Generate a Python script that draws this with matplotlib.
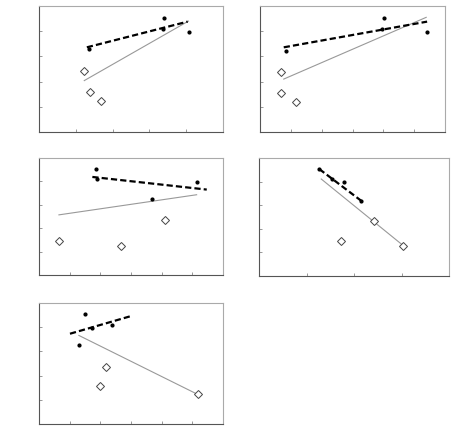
import numpy as np
import matplotlib.pyplot as plt

# five panels, same y values, x differs per panel
filled_x = [
    [1.37, 3.38, 3.40, 4.08],
    [0.85, 3.96, 4.02, 5.40],
    [1.85, 1.88, 3.67, 5.14],
    [1.27, 1.54, 1.78, 2.15],
    [1.50, 1.74, 2.38, 1.29],
]
filled_y = [
    [3.28, 4.08, 4.51, 3.96],
    [3.23, 4.08, 4.51, 3.96],
    [4.53, 4.10, 3.26, 3.98],
    [4.53, 4.10, 3.97, 3.19],
    [4.53, 3.98, 4.10, 3.28],
]
open_x = [
    [1.23, 1.39, 1.68],
    [0.69, 0.69, 1.18],
    [0.65, 2.66, 4.10],
    [1.73, 2.43, 3.03],
    [2.18, 2.00, 5.18],
]
open_y = [
    [2.42, 1.57, 1.23],
    [2.39, 1.54, 1.18],
    [1.47, 1.24, 2.35],
    [1.49, 2.34, 1.26],
    [2.35, 1.59, 1.22],
]
# fitted lines (end points)
dash_x = [[1.30, 4.04], [0.77, 5.42], [1.74, 5.47], [1.27, 2.15], [1.01, 3.00]]
dash_y = [[3.36, 4.38], [3.36, 4.38], [4.19, 3.65], [4.53, 3.19], [3.73, 4.46]]
solid_x = [[1.23, 4.06], [0.77, 5.39], [0.65, 5.14], [1.31, 3.03], [1.30, 5.18]]
solid_y = [[2.04, 4.40], [2.10, 4.55], [2.57, 3.43], [4.11, 1.30], [3.66, 1.22]]
xmax = [5, 6, 6, 4, 6]

W, H = 474, 445
boxes = [(39, 223, 6, 132), (260, 445, 6, 132), (39, 223, 158, 275),
         (259, 449, 158, 276), (39, 223, 303, 424)]

fig = plt.figure(figsize=(W / 100, H / 100), dpi=100)
for i, (x0, x1, y0, y1) in enumerate(boxes):
    ax = fig.add_axes([x0 / W, (H - y1) / H, (x1 - x0) / W, (y1 - y0) / H])
    ax.plot(solid_x[i], solid_y[i], color='#999999', lw=0.8)
    ax.plot(dash_x[i], dash_y[i], color='black', lw=1.6, dashes=(2.8, 1.4))
    ax.plot(filled_x[i], filled_y[i], 'o', color='black', ms=2, ls='none')
    ax.plot(open_x[i], open_y[i], 'D', mfc='white', mec='#444444', mew=0.7,
            ms=4.5, ls='none')
    ax.set_xlim(0, xmax[i])
    ax.set_ylim(0, 5)
    ax.set_xticks(range(1, xmax[i]))
    ax.set_yticks(range(1, 5))
    ax.tick_params(direction='in', length=2, width=0.6, colors='#888888',
                   labelbottom=False, labelleft=False)
    for s in ['left', 'bottom']:
        ax.spines[s].set_color('#555555')
        ax.spines[s].set_linewidth(0.8)
    for s in ['top', 'right']:
        ax.spines[s].set_color('#aaaaaa')
        ax.spines[s].set_linewidth(0.8)

fig.savefig('out.png', dpi=100)
